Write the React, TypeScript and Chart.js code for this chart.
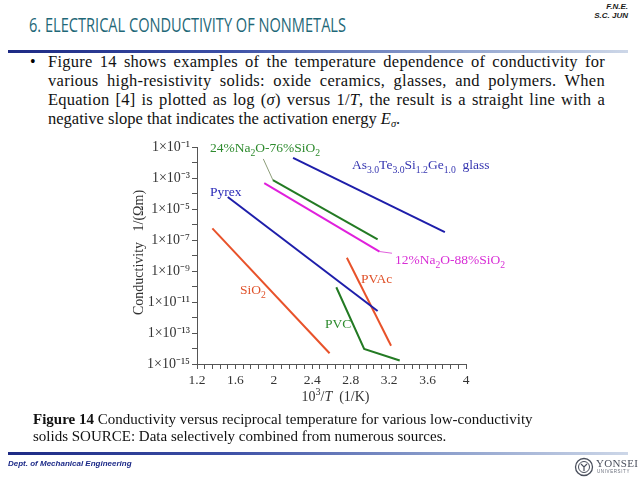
import React, { useEffect, useLayoutEffect, useRef } from "react";
import { Chart, registerables } from "chart.js";

Chart.register(...registerables);

// ---------------- data ----------------
const X_TICK_LABELS = [1.2, 1.6, 2, 2.4, 2.8, 3.2, 3.6, 4];
const X_MINOR_PER_MAJOR = 5;
const Y_TICK_EXPONENTS = [-1, -2, -3, -4, -5, -6, -7, -8, -9, -10, -11, -12, -13, -14, -15];
const Y_LABELED_EXPONENTS = [-1, -3, -5, -7, -9, -11, -13, -15];

const AS_GLASS_X = [2.2, 3.78];
const AS_GLASS_Y = [2.0e-2, 3.2e-7];
const NA24_X = [1.99, 3.08];
const NA24_Y = [7.4e-4, 1.1e-7];
const NA12_X = [1.9, 3.1];
const NA12_Y = [4.6e-4, 1.8e-8];
const PYREX_X = [1.52, 3.08];
const PYREX_Y = [5.9e-5, 2.6e-12];
const SIO2_X = [1.36, 2.58];
const SIO2_Y = [5.6e-7, 4.9e-15];
const PVAC_X = [2.76, 3.22];
const PVAC_Y = [7.2e-9, 1.5e-14];
const PVC_X = [2.65, 2.94, 3.31];
const PVC_Y = [8.9e-11, 9.3e-15, 1.7e-15];

// leader lines from labels to curves
const NA24_LEADER_X = [1.89, 1.99];
const NA24_LEADER_Y = [1.7e-2, 7.4e-4];
const NA12_LEADER_X = [3.1, 3.23];
const NA12_LEADER_Y = [1.8e-8, 1.4e-8];

// curve labels (markup: _{sub}, ^{sup}, *italic*)
const LABEL_TEXT = [
  "24%Na_{2}O-76%SiO_{2}",
  "As_{3.0}Te_{3.0}Si_{1.2}Ge_{1.0}  glass",
  "Pyrex",
  "12%Na_{2}O-88%SiO_{2}",
  "PVAc",
  "SiO_{2}",
  "PVC",
];
const LABEL_X = [1.335, 2.813, 1.335, 3.261, 2.907, 1.648, 2.532];
const LABEL_Y = [4.8e-2, 3.8e-3, 6.9e-5, 2.8e-9, 1.7e-10, 3.2e-11, 2.1e-13];
const LABEL_COLORS = ["#2e8b2e", "#3535b0", "#2a2ab8", "#d82ed6", "#e0522a", "#e0522a", "#2e8b2e"];

const X_TITLE = "10^{3}/*T*  (1/K)";
const Y_TITLE = "Conductivity   1/(Ωm)";

const SERIES = [
  { x: AS_GLASS_X, y: AS_GLASS_Y, color: "#1e1eaa", width: 2 },
  { x: NA24_X, y: NA24_Y, color: "#237a23", width: 2 },
  { x: NA12_X, y: NA12_Y, color: "#e020dc", width: 2 },
  { x: PYREX_X, y: PYREX_Y, color: "#1e1eaa", width: 2 },
  { x: SIO2_X, y: SIO2_Y, color: "#e8522a", width: 2 },
  { x: PVAC_X, y: PVAC_Y, color: "#e8522a", width: 2 },
  { x: PVC_X, y: PVC_Y, color: "#237a23", width: 2 },
  { x: NA24_LEADER_X, y: NA24_LEADER_Y, color: "#8c9c78", width: 1 },
  { x: NA12_LEADER_X, y: NA12_LEADER_Y, color: "#e060dc", width: 1 },
];

// ---------------- helpers ----------------
const SERIF = '"Liberation Serif", "Times New Roman", serif';
const SUP: Record<string, string> = {
  "-": "⁻", "0": "⁰", "1": "¹", "2": "²", "3": "³", "4": "⁴",
  "5": "⁵", "6": "⁶", "7": "⁷", "8": "⁸", "9": "⁹",
};
const toSup = (s: string) => s.split("").map((c) => SUP[c] || c).join("");

type Seg = { t: string; k: number; it: boolean };
function parseRich(s: string): Seg[] {
  const segs: Seg[] = [];
  let buf = "";
  let it = false;
  let i = 0;
  const flush = () => {
    if (buf) segs.push({ t: buf, k: 0, it });
    buf = "";
  };
  while (i < s.length) {
    const c = s[i];
    if ((c === "_" || c === "^") && s[i + 1] === "{") {
      flush();
      const end = s.indexOf("}", i);
      segs.push({ t: s.slice(i + 2, end), k: c === "_" ? 1 : 2, it });
      i = end + 1;
    } else if (c === "*") {
      flush();
      it = !it;
      i++;
    } else {
      buf += c;
      i++;
    }
  }
  flush();
  return segs;
}

function drawRich(ctx: CanvasRenderingContext2D, text: string, x: number, y: number, size: number, color: string, align: string) {
  const segs = parseRich(text);
  const fontOf = (sg: Seg) => `${sg.it ? "italic " : ""}${sg.k ? size * 0.72 : size}px ${SERIF}`;
  let w = 0;
  for (const sg of segs) {
    ctx.font = fontOf(sg);
    w += ctx.measureText(sg.t).width;
  }
  let cx = align === "center" ? x - w / 2 : x;
  ctx.fillStyle = color;
  ctx.textAlign = "left";
  ctx.textBaseline = "alphabetic";
  for (const sg of segs) {
    ctx.font = fontOf(sg);
    const dy = sg.k === 1 ? size * 0.3 : sg.k === 2 ? -size * 0.4 : 0;
    ctx.fillText(sg.t, cx, y + dy);
    cx += ctx.measureText(sg.t).width;
  }
}

function buildXTicks() {
  const out: number[] = [];
  for (let i = 0; i < X_TICK_LABELS.length - 1; i++) {
    const a = X_TICK_LABELS[i];
    const b = X_TICK_LABELS[i + 1];
    for (let k = 0; k < X_MINOR_PER_MAJOR; k++) out.push(a + ((b - a) * k) / X_MINOR_PER_MAJOR);
  }
  out.push(X_TICK_LABELS[X_TICK_LABELS.length - 1]);
  return out;
}

const textPlugin = {
  id: "richText",
  afterDraw(chart: any) {
    const ctx = chart.ctx as CanvasRenderingContext2D;
    const { left, right, top, bottom } = chart.chartArea;
    ctx.save();
    drawRich(ctx, X_TITLE, (left + right) / 2 + 4, bottom + 37, 14, "#333", "center");
    ctx.save();
    ctx.translate(left - 59, (top + bottom) / 2 - 3);
    ctx.rotate(-Math.PI / 2);
    drawRich(ctx, Y_TITLE, 0, 5, 14, "#333", "center");
    ctx.restore();
    const xs = chart.scales.x;
    const ys = chart.scales.y;
    LABEL_TEXT.forEach((t, i) => {
      drawRich(ctx, t, xs.getPixelForValue(LABEL_X[i]), ys.getPixelForValue(LABEL_Y[i]), 13.5, LABEL_COLORS[i], "left");
    });
    ctx.restore();
  },
};

// ---------------- chart ----------------
function ConductivityChart() {
  const ref = useRef<HTMLCanvasElement | null>(null);
  useEffect(() => {
    if (!ref.current) return;
    const xTicks = buildXTicks();
    const chart = new Chart(ref.current, {
      type: "line",
      data: {
        datasets: SERIES.map((s) => ({
          data: s.x.map((x, i) => ({ x, y: s.y[i] })),
          borderColor: s.color,
          borderWidth: s.width,
          pointRadius: 0,
          fill: false,
          tension: 0,
        })),
      },
      options: {
        animation: false,
        responsive: false,
        devicePixelRatio: 1,
        layout: { padding: { left: 0, top: 147, right: 172, bottom: 86 } },
        plugins: { legend: { display: false }, tooltip: { enabled: false } },
        scales: {
          x: {
            type: "linear",
            min: X_TICK_LABELS[0],
            max: X_TICK_LABELS[X_TICK_LABELS.length - 1],
            afterBuildTicks: (s: any) => {
              s.ticks = xTicks.map((v) => ({ value: v }));
            },
            afterFit: (s: any) => {
              s.height = 28;
            },
            ticks: {
              autoSkip: false,
              maxRotation: 0,
              padding: 3,
              color: "#333",
              font: { family: SERIF, size: 13.5 },
              callback: (v: any) => {
                const m = X_TICK_LABELS.find((t) => Math.abs(t - Number(v)) < 1e-6);
                return m === undefined ? "" : String(m);
              },
            },
            grid: { drawOnChartArea: false, tickLength: 5, color: "#555" },
            border: { color: "#555", width: 1 },
          },
          y: {
            type: "logarithmic",
            min: 1e-15,
            max: 1e-1,
            afterBuildTicks: (s: any) => {
              s.ticks = Y_TICK_EXPONENTS.map((e) => ({ value: Number(`1e${e}`) }));
            },
            afterFit: (s: any) => {
              s.width = 197;
            },
            ticks: {
              autoSkip: false,
              padding: 2,
              color: "#333",
              font: { family: SERIF, size: 14 },
              callback: (v: any) => {
                const e = Math.round(Math.log10(Number(v)));
                return Y_LABELED_EXPONENTS.includes(e) ? "1×10" + toSup(String(e)) : "";
              },
            },
            grid: { drawOnChartArea: false, tickLength: 5, color: "#555" },
            border: { color: "#555", width: 1 },
          },
        },
      },
      plugins: [textPlugin],
    } as any);
    return () => chart.destroy();
  }, []);
  return (
    <canvas
      ref={ref}
      width={638}
      height={478}
      style={{ position: "absolute", left: 0, top: 0, width: 638, height: 478, pointerEvents: "none" }}
    />
  );
}

// ---------------- slide ----------------
const BODY_W = 557;

export default function App() {
  const titleRef = useRef<HTMLSpanElement | null>(null);
  const lineRefs = useRef<(HTMLSpanElement | null)[]>([]);

  useLayoutEffect(() => {
    const t = titleRef.current;
    if (t) {
      t.style.transform = "none";
      const w = t.getBoundingClientRect().width;
      t.style.transform = `scaleX(${317 / w})`;
    }
    lineRefs.current.forEach((el, i) => {
      if (!el || i === 3) return;
      el.style.wordSpacing = "0px";
      el.style.letterSpacing = "0px";
      const w = el.getBoundingClientRect().width;
      const text = el.textContent || "";
      const spaces = (text.match(/ /g) || []).length;
      const extra = BODY_W - w;
      el.style.wordSpacing = `${(extra * 0.6) / spaces}px`;
      el.style.letterSpacing = `${(extra * 0.4) / text.length}px`;
    });
  }, []);

  const grad = "linear-gradient(to right, #1d2a84 0%, #3c4fa6 35%, #8c9fcc 70%, #cdd7e8 100%)";
  const bodyLine = (top: number): React.CSSProperties => ({
    position: "absolute",
    left: 48,
    top,
    lineHeight: "20px",
    fontSize: 16.5,
    fontFamily: SERIF,
    color: "#111",
    whiteSpace: "nowrap",
  });
  const lines = [
    <>Figure 14 shows examples of the temperature dependence of conductivity for</>,
    <>various high-resistivity solids: oxide ceramics, glasses, and polymers. When</>,
    <>
      Equation [4] is plotted as log (<i>σ</i>) versus 1/<i>T</i>, the result is a straight line with a
    </>,
    <>
      negative slope that indicates the activation energy <i>E</i>
      <sub style={{ fontSize: 10.5, verticalAlign: "-3px", lineHeight: 0 }}>
        <i>σ</i>
      </sub>
      .
    </>,
  ];
  const tops = [51.5, 71, 90, 109];

  return (
    <div
      style={{
        position: "fixed",
        left: 0,
        top: 0,
        width: 638,
        height: 478,
        background: "#fff",
        overflow: "hidden",
      }}
    >
      <div
        style={{
          position: "absolute",
          right: 10,
          top: 2,
          textAlign: "right",
          font: 'italic bold 8px "Liberation Sans", Arial, sans-serif',
          lineHeight: "9px",
          color: "#1a1a1a",
        }}
      >
        F.N.E.
        <br />
        S.C. JUN
      </div>
      <div style={{ position: "absolute", left: 29, top: 12, lineHeight: "24px", whiteSpace: "nowrap" }}>
        <span
          ref={titleRef}
          style={{
            display: "inline-block",
            transformOrigin: "left center",
            fontFamily: '"Open Sans", "Noto Sans", sans-serif',
            fontSize: 20.5,
            color: "#1f6878",
          }}
        >
          6. ELECTRICAL CONDUCTIVITY OF NONMETALS
        </span>
      </div>
      <div style={{ position: "absolute", left: 8, top: 50, width: 620, height: 3, background: grad }} />

      <div style={{ position: "absolute", left: 30, top: 51.5, lineHeight: "20px", fontSize: 16, fontFamily: SERIF }}>•</div>
      {lines.map((l, i) => (
        <span
          key={i}
          ref={(el) => {
            lineRefs.current[i] = el;
          }}
          style={{ ...bodyLine(tops[i]), display: "inline-block" }}
        >
          {l}
        </span>
      ))}

      <ConductivityChart />

      <div
        style={{
          position: "absolute",
          left: 33,
          top: 411,
          fontFamily: SERIF,
          fontSize: 15,
          lineHeight: "17px",
          color: "#111",
          whiteSpace: "nowrap",
        }}
      >
        <b>Figure 14</b> Conductivity versus reciprocal temperature for various low-conductivity
        <br />
        solids SOURCE: Data selectively combined from numerous sources.
      </div>

      <div style={{ position: "absolute", left: 8, top: 452, width: 620, height: 3, background: grad }} />
      <div
        style={{
          position: "absolute",
          left: 8,
          top: 459,
          font: 'italic bold 8px "Liberation Sans", Arial, sans-serif',
          lineHeight: "10px",
          color: "#1c2a88",
        }}
      >
        Dept. of Mechanical Engineering
      </div>
      <svg width={20} height={20} style={{ position: "absolute", left: 574, top: 457 }}>
        <circle cx={10} cy={10} r={8.5} fill="none" stroke="#4a4f5c" strokeWidth={1.3} />
        <circle cx={10} cy={10} r={5.5} fill="none" stroke="#4a4f5c" strokeWidth={1} />
        <path d="M7 7 L10 10 L13 7 M10 10 L10 14" stroke="#4a4f5c" strokeWidth={1.2} fill="none" />
      </svg>
      <div
        style={{
          position: "absolute",
          left: 596,
          top: 458,
          fontFamily: SERIF,
          fontSize: 11,
          lineHeight: "11px",
          color: "#4a4f5c",
          letterSpacing: 0.3,
        }}
      >
        YONSEI
      </div>
      <div
        style={{
          position: "absolute",
          left: 597,
          top: 469,
          fontFamily: '"Liberation Sans", Arial, sans-serif',
          fontSize: 4.5,
          lineHeight: "5px",
          color: "#6a6f7c",
          letterSpacing: 0.6,
        }}
      >
        UNIVERSITY
      </div>
    </div>
  );
}
